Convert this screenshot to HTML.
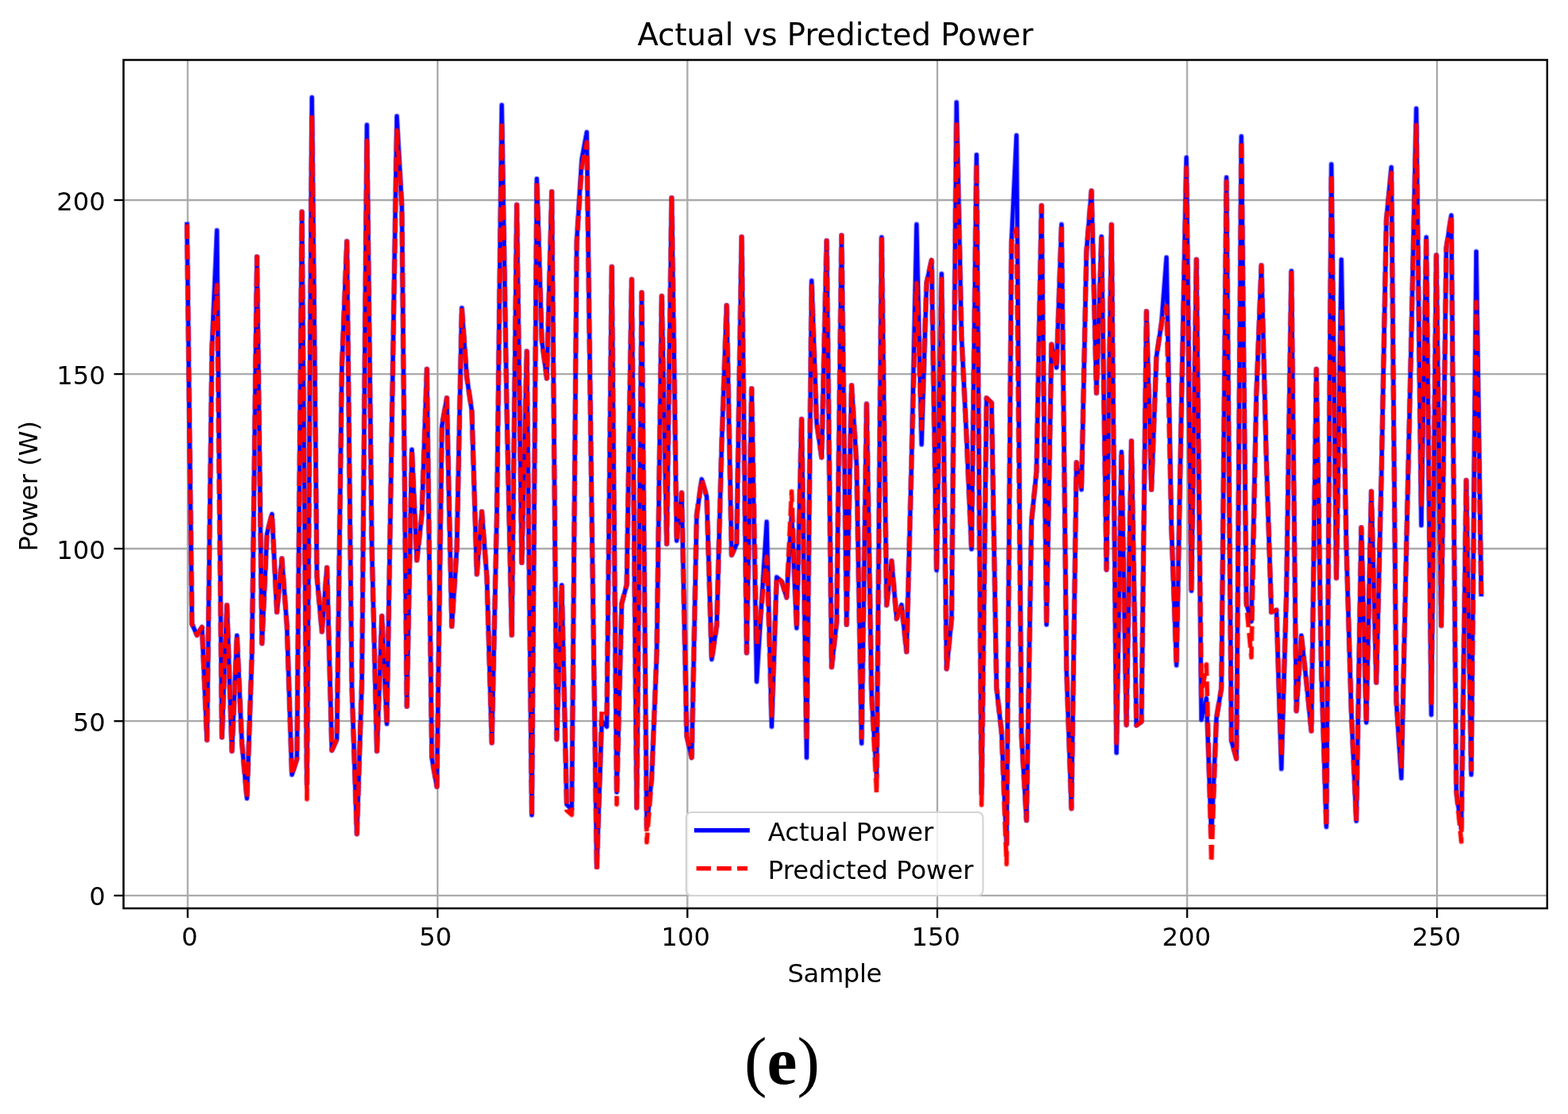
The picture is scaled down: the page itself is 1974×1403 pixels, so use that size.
<!DOCTYPE html>
<html lang="en"><head><meta charset="utf-8"><title>Actual vs Predicted Power</title>
<style>
html,body{margin:0;padding:0;background:#fff;}
body{width:1974px;height:1403px;overflow:hidden;}
svg{display:block;}
svg text{font-family:'DejaVu Sans','Liberation Sans',sans-serif;fill:#000;}
.tick{font-size:32.2px;}
.lbl{font-size:32.2px;}
.ttl{font-size:38.6px;}
.cap{font-family:'Liberation Serif','DejaVu Serif',serif;font-size:85.5px;}
</style></head><body>
<svg width="1974" height="1403" viewBox="0 0 1974 1403">
<defs><clipPath id="ax"><rect x="155.5" y="75.5" width="1792.3" height="1068.5"/></clipPath>
</defs>
<rect width="1974" height="1403" fill="#fff"/>
<g stroke="#aaaaaa" stroke-width="2.3" fill="none"><line x1="236.3" y1="75.5" x2="236.3" y2="1144.0"/><line x1="550.9" y1="75.5" x2="550.9" y2="1144.0"/><line x1="865.4" y1="75.5" x2="865.4" y2="1144.0"/><line x1="1180.0" y1="75.5" x2="1180.0" y2="1144.0"/><line x1="1494.5" y1="75.5" x2="1494.5" y2="1144.0"/><line x1="1809.1" y1="75.5" x2="1809.1" y2="1144.0"/><line x1="155.5" y1="1127.9" x2="1947.8" y2="1127.9"/><line x1="155.5" y1="908.2" x2="1947.8" y2="908.2"/><line x1="155.5" y1="691.0" x2="1947.8" y2="691.0"/><line x1="155.5" y1="471.1" x2="1947.8" y2="471.1"/><line x1="155.5" y1="252.0" x2="1947.8" y2="252.0"/></g>
<g clip-path="url(#ax)" fill="none" stroke-linejoin="round">
<path d="M235.4,282.6 L241.7,785.9 L248.0,799.8 L254.3,789.9 L260.6,931.9 L266.9,436.0 L273.1,290.1 L279.4,928.4 L285.7,762.3 L292.0,945.9 L298.3,800.4 L304.6,936.5 L310.9,1005.5 L317.2,822.8 L323.5,323.4 L329.8,810.3 L336.1,672.4 L342.4,647.5 L348.6,770.8 L354.9,703.6 L361.2,787.7 L367.5,975.7 L373.8,955.8 L380.1,266.8 L386.4,986.7 L392.7,122.7 L399.0,726.3 L405.3,795.4 L411.6,714.9 L417.8,945.0 L424.1,930.8 L430.4,462.3 L436.7,304.1 L443.0,866.6 L449.3,1050.2 L455.6,857.8 L461.9,157.3 L468.2,691.3 L474.5,945.9 L480.8,775.9 L487.0,911.7 L493.3,536.8 L499.6,146.3 L505.9,259.8 L512.2,889.6 L518.5,566.2 L524.8,705.5 L531.1,647.5 L537.4,464.9 L543.7,954.9 L550.0,990.6 L556.3,536.8 L562.5,501.3 L568.8,788.8 L575.1,691.3 L581.4,387.8 L587.7,475.4 L594.0,517.5 L600.3,723.1 L606.6,644.4 L612.9,726.3 L619.2,935.4 L625.5,647.5 L631.7,132.3 L638.0,514.9 L644.3,799.8 L650.6,258.1 L656.9,708.6 L663.2,442.6 L669.5,1026.5 L675.8,225.2 L682.1,428.6 L688.4,476.5 L694.7,241.4 L700.9,931.0 L707.2,736.9 L713.5,1013.2 L719.8,1019.5 L726.1,303.7 L732.4,200.7 L738.7,166.5 L745.0,647.5 L751.3,1091.8 L757.6,908.4 L763.9,915.2 L770.2,336.1 L776.4,997.6 L782.7,760.1 L789.0,736.4 L795.3,351.9 L801.6,1017.3 L807.9,368.5 L814.2,1041.4 L820.5,979.0 L826.8,822.8 L833.1,372.9 L839.4,684.9 L845.6,249.3 L851.9,681.0 L858.2,620.7 L864.5,926.4 L870.8,954.2 L877.1,648.8 L883.4,603.6 L889.7,625.5 L896.0,830.4 L902.3,787.7 L908.6,558.7 L914.8,384.7 L921.1,699.0 L927.4,685.1 L933.7,298.4 L940.0,822.1 L946.3,489.5 L952.6,858.5 L958.9,757.0 L965.2,657.1 L971.5,915.2 L977.8,726.8 L984.1,732.5 L990.3,752.4 L996.6,647.0 L1002.9,791.0 L1009.2,528.0 L1015.5,954.2 L1021.8,353.6 L1028.1,532.4 L1034.4,576.0 L1040.7,303.2 L1047.0,840.1 L1053.3,783.3 L1059.5,296.6 L1065.8,786.6 L1072.1,485.5 L1078.4,585.0 L1084.7,936.3 L1091.0,508.8 L1097.3,875.3 L1103.6,977.9 L1109.9,298.8 L1116.2,762.1 L1122.5,706.6 L1128.8,779.2 L1135.0,761.8 L1141.3,820.8 L1147.6,580.6 L1153.9,282.6 L1160.2,559.8 L1166.5,356.2 L1172.8,327.8 L1179.1,718.2 L1185.4,344.8 L1191.7,842.3 L1198.0,778.9 L1204.2,128.8 L1210.5,422.9 L1216.8,549.9 L1223.1,691.5 L1229.4,195.0 L1235.7,998.9 L1242.0,501.3 L1248.3,507.4 L1254.6,866.6 L1260.9,922.0 L1267.2,1062.9 L1273.4,303.7 L1279.7,170.4 L1286.0,926.4 L1292.3,1033.1 L1298.6,656.2 L1304.9,593.8 L1311.2,259.0 L1317.5,786.6 L1323.8,433.8 L1330.1,463.0 L1336.4,282.6 L1342.7,844.7 L1348.9,1018.2 L1355.2,582.4 L1361.5,616.6 L1367.8,316.8 L1374.1,240.5 L1380.4,494.9 L1386.7,298.0 L1393.0,717.4 L1399.3,283.1 L1405.6,948.1 L1411.9,569.2 L1418.1,913.0 L1424.4,555.6 L1430.7,913.5 L1437.0,908.9 L1443.3,392.2 L1449.6,616.6 L1455.9,449.2 L1462.2,407.5 L1468.5,324.2 L1474.8,665.0 L1481.1,837.9 L1487.3,514.9 L1493.6,198.5 L1499.9,744.1 L1506.2,326.9 L1512.5,906.5 L1518.8,879.3 L1525.1,1052.4 L1531.4,904.5 L1537.7,866.6 L1544.0,223.5 L1550.3,933.0 L1556.6,955.5 L1562.8,171.7 L1569.1,760.1 L1575.4,782.7 L1581.7,497.4 L1588.0,334.3 L1594.3,580.6 L1600.6,770.8 L1606.9,768.4 L1613.2,968.3 L1619.5,748.3 L1625.8,341.3 L1632.0,895.3 L1638.3,800.4 L1644.6,857.8 L1650.9,920.5 L1657.2,464.9 L1663.5,844.7 L1669.8,1041.4 L1676.1,206.8 L1682.4,727.9 L1688.7,326.9 L1695.0,691.3 L1701.2,895.7 L1707.5,1034.0 L1713.8,664.6 L1720.1,910.0 L1726.4,619.0 L1732.7,859.4 L1739.0,603.6 L1745.3,277.4 L1751.6,210.7 L1757.9,884.1 L1764.2,980.1 L1770.5,691.3 L1776.7,427.2 L1783.0,136.7 L1789.3,661.7 L1795.6,298.8 L1801.9,900.3 L1808.2,321.6 L1814.5,787.9 L1820.8,312.4 L1827.1,271.2 L1833.4,996.5 L1839.7,1043.6 L1845.9,604.9 L1852.2,975.7 L1858.5,316.8 L1864.8,748.3" stroke="#0000ff" stroke-opacity="0.4" stroke-width="7.0" stroke-linecap="square"/>
<path d="M235.4,282.6 L241.7,785.9 L248.0,799.8 L254.3,789.9 L260.6,931.9 L266.9,436.0 L273.1,290.1 L279.4,928.4 L285.7,762.3 L292.0,945.9 L298.3,800.4 L304.6,936.5 L310.9,1005.5 L317.2,822.8 L323.5,323.4 L329.8,810.3 L336.1,672.4 L342.4,647.5 L348.6,770.8 L354.9,703.6 L361.2,787.7 L367.5,975.7 L373.8,955.8 L380.1,266.8 L386.4,986.7 L392.7,122.7 L399.0,726.3 L405.3,795.4 L411.6,714.9 L417.8,945.0 L424.1,930.8 L430.4,462.3 L436.7,304.1 L443.0,866.6 L449.3,1050.2 L455.6,857.8 L461.9,157.3 L468.2,691.3 L474.5,945.9 L480.8,775.9 L487.0,911.7 L493.3,536.8 L499.6,146.3 L505.9,259.8 L512.2,889.6 L518.5,566.2 L524.8,705.5 L531.1,647.5 L537.4,464.9 L543.7,954.9 L550.0,990.6 L556.3,536.8 L562.5,501.3 L568.8,788.8 L575.1,691.3 L581.4,387.8 L587.7,475.4 L594.0,517.5 L600.3,723.1 L606.6,644.4 L612.9,726.3 L619.2,935.4 L625.5,647.5 L631.7,132.3 L638.0,514.9 L644.3,799.8 L650.6,258.1 L656.9,708.6 L663.2,442.6 L669.5,1026.5 L675.8,225.2 L682.1,428.6 L688.4,476.5 L694.7,241.4 L700.9,931.0 L707.2,736.9 L713.5,1013.2 L719.8,1019.5 L726.1,303.7 L732.4,200.7 L738.7,166.5 L745.0,647.5 L751.3,1091.8 L757.6,908.4 L763.9,915.2 L770.2,336.1 L776.4,997.6 L782.7,760.1 L789.0,736.4 L795.3,351.9 L801.6,1017.3 L807.9,368.5 L814.2,1041.4 L820.5,979.0 L826.8,822.8 L833.1,372.9 L839.4,684.9 L845.6,249.3 L851.9,681.0 L858.2,620.7 L864.5,926.4 L870.8,954.2 L877.1,648.8 L883.4,603.6 L889.7,625.5 L896.0,830.4 L902.3,787.7 L908.6,558.7 L914.8,384.7 L921.1,699.0 L927.4,685.1 L933.7,298.4 L940.0,822.1 L946.3,489.5 L952.6,858.5 L958.9,757.0 L965.2,657.1 L971.5,915.2 L977.8,726.8 L984.1,732.5 L990.3,752.4 L996.6,647.0 L1002.9,791.0 L1009.2,528.0 L1015.5,954.2 L1021.8,353.6 L1028.1,532.4 L1034.4,576.0 L1040.7,303.2 L1047.0,840.1 L1053.3,783.3 L1059.5,296.6 L1065.8,786.6 L1072.1,485.5 L1078.4,585.0 L1084.7,936.3 L1091.0,508.8 L1097.3,875.3 L1103.6,977.9 L1109.9,298.8 L1116.2,762.1 L1122.5,706.6 L1128.8,779.2 L1135.0,761.8 L1141.3,820.8 L1147.6,580.6 L1153.9,282.6 L1160.2,559.8 L1166.5,356.2 L1172.8,327.8 L1179.1,718.2 L1185.4,344.8 L1191.7,842.3 L1198.0,778.9 L1204.2,128.8 L1210.5,422.9 L1216.8,549.9 L1223.1,691.5 L1229.4,195.0 L1235.7,998.9 L1242.0,501.3 L1248.3,507.4 L1254.6,866.6 L1260.9,922.0 L1267.2,1062.9 L1273.4,303.7 L1279.7,170.4 L1286.0,926.4 L1292.3,1033.1 L1298.6,656.2 L1304.9,593.8 L1311.2,259.0 L1317.5,786.6 L1323.8,433.8 L1330.1,463.0 L1336.4,282.6 L1342.7,844.7 L1348.9,1018.2 L1355.2,582.4 L1361.5,616.6 L1367.8,316.8 L1374.1,240.5 L1380.4,494.9 L1386.7,298.0 L1393.0,717.4 L1399.3,283.1 L1405.6,948.1 L1411.9,569.2 L1418.1,913.0 L1424.4,555.6 L1430.7,913.5 L1437.0,908.9 L1443.3,392.2 L1449.6,616.6 L1455.9,449.2 L1462.2,407.5 L1468.5,324.2 L1474.8,665.0 L1481.1,837.9 L1487.3,514.9 L1493.6,198.5 L1499.9,744.1 L1506.2,326.9 L1512.5,906.5 L1518.8,879.3 L1525.1,1052.4 L1531.4,904.5 L1537.7,866.6 L1544.0,223.5 L1550.3,933.0 L1556.6,955.5 L1562.8,171.7 L1569.1,760.1 L1575.4,782.7 L1581.7,497.4 L1588.0,334.3 L1594.3,580.6 L1600.6,770.8 L1606.9,768.4 L1613.2,968.3 L1619.5,748.3 L1625.8,341.3 L1632.0,895.3 L1638.3,800.4 L1644.6,857.8 L1650.9,920.5 L1657.2,464.9 L1663.5,844.7 L1669.8,1041.4 L1676.1,206.8 L1682.4,727.9 L1688.7,326.9 L1695.0,691.3 L1701.2,895.7 L1707.5,1034.0 L1713.8,664.6 L1720.1,910.0 L1726.4,619.0 L1732.7,859.4 L1739.0,603.6 L1745.3,277.4 L1751.6,210.7 L1757.9,884.1 L1764.2,980.1 L1770.5,691.3 L1776.7,427.2 L1783.0,136.7 L1789.3,661.7 L1795.6,298.8 L1801.9,900.3 L1808.2,321.6 L1814.5,787.9 L1820.8,312.4 L1827.1,271.2 L1833.4,996.5 L1839.7,1043.6 L1845.9,604.9 L1852.2,975.7 L1858.5,316.8 L1864.8,748.3" stroke="#0000ff" stroke-width="4.8" stroke-linecap="square"/>
<path d="M235.4,282.6 L241.7,785.9 L248.0,799.8 L254.3,789.9 L260.6,931.9 L266.9,436.0 L273.1,358.9 L279.4,928.4 L285.7,762.3 L292.0,945.9 L298.3,800.4 L304.6,936.5 L310.9,1005.5 L317.2,822.8 L323.5,323.4 L329.8,810.3 L336.1,672.4 L342.4,647.5 L348.6,770.8 L354.9,703.6 L361.2,787.7 L367.5,975.7 L373.8,955.8 L380.1,266.8 L386.4,1006.4 L392.7,145.4 L399.0,726.3 L405.3,795.4 L411.6,714.9 L417.8,945.0 L424.1,930.8 L430.4,462.3 L436.7,304.1 L443.0,866.6 L449.3,1050.2 L455.6,857.8 L461.9,177.4 L468.2,691.3 L474.5,945.9 L480.8,775.9 L487.0,911.7 L493.3,536.8 L499.6,164.3 L505.9,259.8 L512.2,889.6 L518.5,566.2 L524.8,705.5 L531.1,647.5 L537.4,464.9 L543.7,954.9 L550.0,990.6 L556.3,536.8 L562.5,501.3 L568.8,788.8 L575.1,691.3 L581.4,387.8 L587.7,475.4 L594.0,517.5 L600.3,723.1 L606.6,644.4 L612.9,726.3 L619.2,935.4 L625.5,647.5 L631.7,153.3 L638.0,514.9 L644.3,799.8 L650.6,258.1 L656.9,708.6 L663.2,442.6 L669.5,1026.5 L675.8,228.7 L682.1,428.6 L688.4,476.5 L694.7,241.4 L700.9,931.0 L707.2,736.9 L713.5,1020.6 L719.8,1026.1 L726.1,303.7 L732.4,211.6 L738.7,179.2 L745.0,647.5 L751.3,1094.9 L757.6,893.3 L763.9,899.0 L770.2,336.1 L776.4,1013.0 L782.7,760.1 L789.0,736.4 L795.3,351.9 L801.6,1017.3 L807.9,368.5 L814.2,1060.7 L820.5,979.0 L826.8,822.8 L833.1,372.9 L839.4,684.9 L845.6,249.3 L851.9,681.0 L858.2,620.7 L864.5,926.4 L870.8,954.2 L877.1,648.8 L883.4,603.6 L889.7,625.5 L896.0,830.4 L902.3,787.7 L908.6,558.7 L914.8,384.7 L921.1,699.0 L927.4,685.1 L933.7,298.4 L940.0,822.1 L946.3,489.5 L952.6,812.5 L958.9,761.4 L965.2,701.4 L971.5,901.2 L977.8,726.8 L984.1,732.5 L990.3,752.4 L996.6,619.0 L1002.9,791.0 L1009.2,528.0 L1015.5,933.2 L1021.8,360.2 L1028.1,532.4 L1034.4,576.0 L1040.7,303.2 L1047.0,840.1 L1053.3,783.3 L1059.5,296.6 L1065.8,786.6 L1072.1,485.5 L1078.4,585.0 L1084.7,928.8 L1091.0,508.8 L1097.3,875.3 L1103.6,998.9 L1109.9,298.8 L1116.2,762.1 L1122.5,706.6 L1128.8,779.2 L1135.0,761.8 L1141.3,820.8 L1147.6,580.6 L1153.9,356.7 L1160.2,540.1 L1166.5,356.2 L1172.8,327.8 L1179.1,718.2 L1185.4,351.4 L1191.7,842.3 L1198.0,778.9 L1204.2,153.3 L1210.5,422.9 L1216.8,549.9 L1223.1,691.5 L1229.4,206.8 L1235.7,1013.8 L1242.0,501.3 L1248.3,507.4 L1254.6,866.6 L1260.9,922.0 L1267.2,1088.3 L1273.4,303.7 L1279.7,288.3 L1286.0,926.4 L1292.3,1033.1 L1298.6,656.2 L1304.9,593.8 L1311.2,259.0 L1317.5,786.6 L1323.8,433.8 L1330.1,463.0 L1336.4,282.6 L1342.7,844.7 L1348.9,1018.2 L1355.2,582.4 L1361.5,616.6 L1367.8,316.8 L1374.1,240.5 L1380.4,494.9 L1386.7,298.0 L1393.0,717.4 L1399.3,283.1 L1405.6,935.4 L1411.9,569.2 L1418.1,913.0 L1424.4,555.6 L1430.7,913.5 L1437.0,908.9 L1443.3,392.2 L1449.6,616.6 L1455.9,449.2 L1462.2,407.5 L1468.5,385.6 L1474.8,665.0 L1481.1,837.9 L1487.3,514.9 L1493.6,211.2 L1499.9,744.1 L1506.2,326.9 L1512.5,876.4 L1518.8,836.8 L1525.1,1086.1 L1531.4,904.5 L1537.7,866.6 L1544.0,228.7 L1550.3,933.0 L1556.6,955.5 L1562.8,177.0 L1569.1,761.0 L1575.4,827.8 L1581.7,497.4 L1588.0,334.3 L1594.3,580.6 L1600.6,770.8 L1606.9,768.4 L1613.2,953.8 L1619.5,748.3 L1625.8,341.3 L1632.0,895.3 L1638.3,800.4 L1644.6,857.8 L1650.9,920.5 L1657.2,464.9 L1663.5,844.7 L1669.8,1041.4 L1676.1,219.9 L1682.4,727.9 L1688.7,387.4 L1695.0,691.3 L1701.2,895.7 L1707.5,1034.0 L1713.8,664.6 L1720.1,910.0 L1726.4,619.0 L1732.7,859.4 L1739.0,603.6 L1745.3,277.4 L1751.6,217.8 L1757.9,884.1 L1764.2,965.2 L1770.5,691.3 L1776.7,427.2 L1783.0,157.7 L1789.3,635.4 L1795.6,298.8 L1801.9,885.2 L1808.2,321.6 L1814.5,787.9 L1820.8,312.4 L1827.1,271.2 L1833.4,996.5 L1839.7,1059.9 L1845.9,604.9 L1852.2,969.1 L1858.5,380.3 L1864.8,748.3" stroke="#ff0000" stroke-opacity="0.4" stroke-width="7.0" stroke-dasharray="18.3 7.4" stroke-linecap="butt"/>
<path d="M235.4,282.6 L241.7,785.9 L248.0,799.8 L254.3,789.9 L260.6,931.9 L266.9,436.0 L273.1,358.9 L279.4,928.4 L285.7,762.3 L292.0,945.9 L298.3,800.4 L304.6,936.5 L310.9,1005.5 L317.2,822.8 L323.5,323.4 L329.8,810.3 L336.1,672.4 L342.4,647.5 L348.6,770.8 L354.9,703.6 L361.2,787.7 L367.5,975.7 L373.8,955.8 L380.1,266.8 L386.4,1006.4 L392.7,145.4 L399.0,726.3 L405.3,795.4 L411.6,714.9 L417.8,945.0 L424.1,930.8 L430.4,462.3 L436.7,304.1 L443.0,866.6 L449.3,1050.2 L455.6,857.8 L461.9,177.4 L468.2,691.3 L474.5,945.9 L480.8,775.9 L487.0,911.7 L493.3,536.8 L499.6,164.3 L505.9,259.8 L512.2,889.6 L518.5,566.2 L524.8,705.5 L531.1,647.5 L537.4,464.9 L543.7,954.9 L550.0,990.6 L556.3,536.8 L562.5,501.3 L568.8,788.8 L575.1,691.3 L581.4,387.8 L587.7,475.4 L594.0,517.5 L600.3,723.1 L606.6,644.4 L612.9,726.3 L619.2,935.4 L625.5,647.5 L631.7,153.3 L638.0,514.9 L644.3,799.8 L650.6,258.1 L656.9,708.6 L663.2,442.6 L669.5,1026.5 L675.8,228.7 L682.1,428.6 L688.4,476.5 L694.7,241.4 L700.9,931.0 L707.2,736.9 L713.5,1020.6 L719.8,1026.1 L726.1,303.7 L732.4,211.6 L738.7,179.2 L745.0,647.5 L751.3,1094.9 L757.6,893.3 L763.9,899.0 L770.2,336.1 L776.4,1013.0 L782.7,760.1 L789.0,736.4 L795.3,351.9 L801.6,1017.3 L807.9,368.5 L814.2,1060.7 L820.5,979.0 L826.8,822.8 L833.1,372.9 L839.4,684.9 L845.6,249.3 L851.9,681.0 L858.2,620.7 L864.5,926.4 L870.8,954.2 L877.1,648.8 L883.4,603.6 L889.7,625.5 L896.0,830.4 L902.3,787.7 L908.6,558.7 L914.8,384.7 L921.1,699.0 L927.4,685.1 L933.7,298.4 L940.0,822.1 L946.3,489.5 L952.6,812.5 L958.9,761.4 L965.2,701.4 L971.5,901.2 L977.8,726.8 L984.1,732.5 L990.3,752.4 L996.6,619.0 L1002.9,791.0 L1009.2,528.0 L1015.5,933.2 L1021.8,360.2 L1028.1,532.4 L1034.4,576.0 L1040.7,303.2 L1047.0,840.1 L1053.3,783.3 L1059.5,296.6 L1065.8,786.6 L1072.1,485.5 L1078.4,585.0 L1084.7,928.8 L1091.0,508.8 L1097.3,875.3 L1103.6,998.9 L1109.9,298.8 L1116.2,762.1 L1122.5,706.6 L1128.8,779.2 L1135.0,761.8 L1141.3,820.8 L1147.6,580.6 L1153.9,356.7 L1160.2,540.1 L1166.5,356.2 L1172.8,327.8 L1179.1,718.2 L1185.4,351.4 L1191.7,842.3 L1198.0,778.9 L1204.2,153.3 L1210.5,422.9 L1216.8,549.9 L1223.1,691.5 L1229.4,206.8 L1235.7,1013.8 L1242.0,501.3 L1248.3,507.4 L1254.6,866.6 L1260.9,922.0 L1267.2,1088.3 L1273.4,303.7 L1279.7,288.3 L1286.0,926.4 L1292.3,1033.1 L1298.6,656.2 L1304.9,593.8 L1311.2,259.0 L1317.5,786.6 L1323.8,433.8 L1330.1,463.0 L1336.4,282.6 L1342.7,844.7 L1348.9,1018.2 L1355.2,582.4 L1361.5,616.6 L1367.8,316.8 L1374.1,240.5 L1380.4,494.9 L1386.7,298.0 L1393.0,717.4 L1399.3,283.1 L1405.6,935.4 L1411.9,569.2 L1418.1,913.0 L1424.4,555.6 L1430.7,913.5 L1437.0,908.9 L1443.3,392.2 L1449.6,616.6 L1455.9,449.2 L1462.2,407.5 L1468.5,385.6 L1474.8,665.0 L1481.1,837.9 L1487.3,514.9 L1493.6,211.2 L1499.9,744.1 L1506.2,326.9 L1512.5,876.4 L1518.8,836.8 L1525.1,1086.1 L1531.4,904.5 L1537.7,866.6 L1544.0,228.7 L1550.3,933.0 L1556.6,955.5 L1562.8,177.0 L1569.1,761.0 L1575.4,827.8 L1581.7,497.4 L1588.0,334.3 L1594.3,580.6 L1600.6,770.8 L1606.9,768.4 L1613.2,953.8 L1619.5,748.3 L1625.8,341.3 L1632.0,895.3 L1638.3,800.4 L1644.6,857.8 L1650.9,920.5 L1657.2,464.9 L1663.5,844.7 L1669.8,1041.4 L1676.1,219.9 L1682.4,727.9 L1688.7,387.4 L1695.0,691.3 L1701.2,895.7 L1707.5,1034.0 L1713.8,664.6 L1720.1,910.0 L1726.4,619.0 L1732.7,859.4 L1739.0,603.6 L1745.3,277.4 L1751.6,217.8 L1757.9,884.1 L1764.2,965.2 L1770.5,691.3 L1776.7,427.2 L1783.0,157.7 L1789.3,635.4 L1795.6,298.8 L1801.9,885.2 L1808.2,321.6 L1814.5,787.9 L1820.8,312.4 L1827.1,271.2 L1833.4,996.5 L1839.7,1059.9 L1845.9,604.9 L1852.2,969.1 L1858.5,380.3 L1864.8,748.3" stroke="#ff0000" stroke-width="4.8" stroke-dasharray="18.3 7.4" stroke-linecap="butt"/>
</g>
<rect x="155.5" y="75.5" width="1792.3" height="1068.5" fill="none" stroke="#000" stroke-width="2.5"/>
<g stroke="#000" stroke-width="2.3"><line x1="236.3" y1="1144.0" x2="236.3" y2="1156.0"/><line x1="550.9" y1="1144.0" x2="550.9" y2="1156.0"/><line x1="865.4" y1="1144.0" x2="865.4" y2="1156.0"/><line x1="1180.0" y1="1144.0" x2="1180.0" y2="1156.0"/><line x1="1494.5" y1="1144.0" x2="1494.5" y2="1156.0"/><line x1="1809.1" y1="1144.0" x2="1809.1" y2="1156.0"/><line x1="155.5" y1="1127.9" x2="143.5" y2="1127.9"/><line x1="155.5" y1="908.2" x2="143.5" y2="908.2"/><line x1="155.5" y1="691.0" x2="143.5" y2="691.0"/><line x1="155.5" y1="471.1" x2="143.5" y2="471.1"/><line x1="155.5" y1="252.0" x2="143.5" y2="252.0"/></g>
<rect x="863.8" y="1023.0" width="373.7" height="105.0" rx="6.4" ry="6.4" fill="#fff" fill-opacity="0.8" stroke="#d4d4d4" stroke-width="2.2"/>
<line x1="876.7" y1="1045.7" x2="941.1" y2="1045.7" stroke="#0000ff" stroke-width="5.50" stroke-linecap="square"/>
<line x1="876.7" y1="1093.8" x2="941.1" y2="1093.8" stroke="#ff0000" stroke-width="5.50" stroke-dasharray="18.3 7.4"/>
<text class="lbl" x="966.8" y="1059.0">Actual Power</text>
<text class="lbl" x="966.8" y="1107.1">Predicted Power</text>
<text class="tick" text-anchor="middle" x="238.7" y="1190.9">0</text>
<text class="tick" text-anchor="middle" x="548.3" y="1190.9">50</text>
<text class="tick" text-anchor="middle" x="863.3" y="1190.9">100</text>
<text class="tick" text-anchor="middle" x="1178.2" y="1190.9">150</text>
<text class="tick" text-anchor="middle" x="1493.8" y="1190.9">200</text>
<text class="tick" text-anchor="middle" x="1808.5" y="1190.9">250</text>
<text class="tick" text-anchor="end" x="132.8" y="1140.4">0</text>
<text class="tick" text-anchor="end" x="132.8" y="920.7">50</text>
<text class="tick" text-anchor="end" x="132.8" y="703.5">100</text>
<text class="tick" text-anchor="end" x="132.8" y="483.6">150</text>
<text class="tick" text-anchor="end" x="132.8" y="264.5">200</text>
<text class="ttl" text-anchor="middle" x="1051.7" y="56.7">Actual vs Predicted Power</text>
<text class="lbl" text-anchor="middle" letter-spacing="-0.4" x="1050.7" y="1237.4">Sample</text>
<text class="lbl" text-anchor="middle" transform="translate(47.2,612.2) rotate(-90)">Power (W)</text>
<text class="cap" text-anchor="middle" x="984.4" y="1365.2">(<tspan font-weight="bold">e</tspan>)</text>
</svg>
</body></html>
